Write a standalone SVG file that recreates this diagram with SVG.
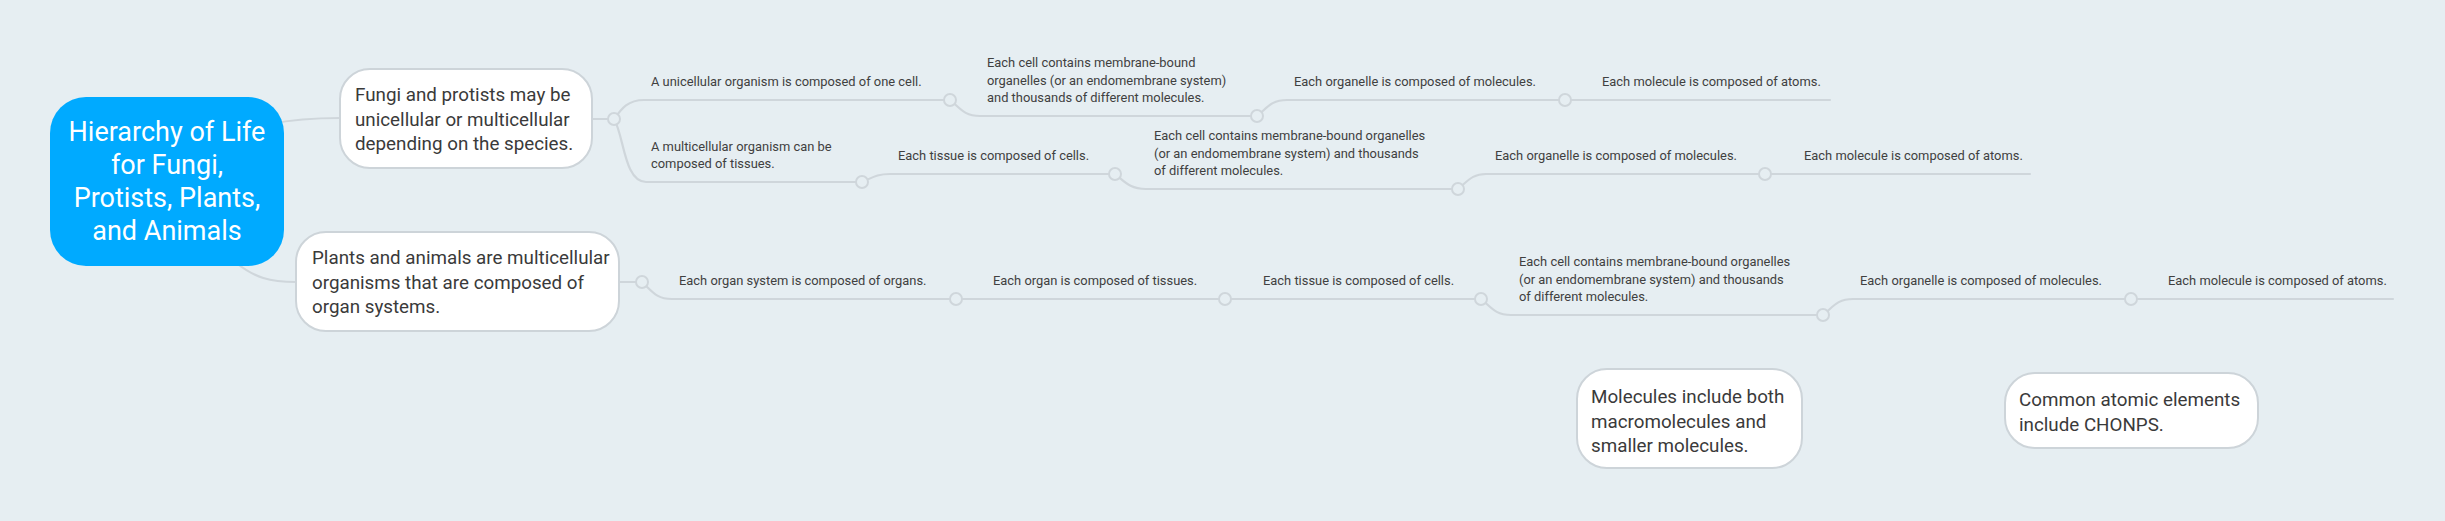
<svg xmlns="http://www.w3.org/2000/svg" width="2445" height="521" viewBox="0 0 2445 521">
<style>
.bg{fill:#e6eef2}
.ln{fill:none;stroke:#cfd6db;stroke-width:2.2;stroke-linecap:round}
.dot{fill:#e6eef2;stroke:#cfd6db;stroke-width:2}
.box{fill:#ffffff;stroke:#cdd4d9;stroke-width:2}
.root{fill:#00aaff}
.rt{font-family:Roboto,'Liberation Sans',sans-serif;font-size:27px;fill:#ffffff;text-anchor:middle}
.nt{font-family:Roboto,'Liberation Sans',sans-serif;font-size:18.8px;fill:#3a3a3a}
.lt{font-family:Roboto,'Liberation Sans',sans-serif;font-size:12.9px;fill:#404040}
</style>
<rect class="bg" x="0" y="0" width="2445" height="521"/>
<g id="connectors">
<path class="ln" d="M270,124 Q300,118 340,118"/>
<path class="ln" d="M235,262 C255,278 270,282 296,282"/>
<path class="ln" d="M592,119 L608,119"/>
<path class="ln" d="M619,282 L636,282"/>
<path class="ln" d="M614,119 C622,108 628,100 644,100 L950,100"/>
<path class="ln" d="M950,100 C960,108 964,116 980,116 L1257,116"/>
<path class="ln" d="M1257,116 C1267,108 1271,100 1287,100 L1565,100"/>
<path class="ln" d="M1565,100 L1830,100"/>
<path class="ln" d="M614,119 C624,135 624,182 646,182 L862,182"/>
<path class="ln" d="M862,182 C872,178 876,174 890,174 L1115,174"/>
<path class="ln" d="M1115,174 C1125,182 1130,189 1146,189 L1458,189"/>
<path class="ln" d="M1458,189 C1468,181 1472,174 1486,174 L1765,174"/>
<path class="ln" d="M1765,174 L2030,174"/>
<path class="ln" d="M642,282 C652,291 656,299 672,299 L956,299"/>
<path class="ln" d="M956,299 L1225,299"/>
<path class="ln" d="M1225,299 L1481,299"/>
<path class="ln" d="M1481,299 C1491,307 1495,315 1511,315 L1823,315"/>
<path class="ln" d="M1823,315 C1833,307 1837,299 1853,299 L2131,299"/>
<path class="ln" d="M2131,299 L2393,299"/>
<circle class="dot" cx="614" cy="119" r="6"/>
<circle class="dot" cx="950" cy="100" r="6"/>
<circle class="dot" cx="1257" cy="116" r="6"/>
<circle class="dot" cx="1565" cy="100" r="6"/>
<circle class="dot" cx="862" cy="182" r="6"/>
<circle class="dot" cx="1115" cy="174" r="6"/>
<circle class="dot" cx="1458" cy="189" r="6"/>
<circle class="dot" cx="1765" cy="174" r="6"/>
<circle class="dot" cx="642" cy="282" r="6"/>
<circle class="dot" cx="956" cy="299" r="6"/>
<circle class="dot" cx="1225" cy="299" r="6"/>
<circle class="dot" cx="1481" cy="299" r="6"/>
<circle class="dot" cx="1823" cy="315" r="6"/>
<circle class="dot" cx="2131" cy="299" r="6"/>
</g>
<g id="root">
<rect class="root" x="50" y="97" width="234" height="169" rx="36"/>
<text class="rt" x="167" y="141">Hierarchy of Life</text>
<text class="rt" x="167" y="174">for Fungi,</text>
<text class="rt" x="167" y="207">Protists, Plants,</text>
<text class="rt" x="167" y="240">and Animals</text>
</g>
<g id="node-fungi">
<rect class="box" x="340" y="69" width="252" height="99" rx="30"/>
<text class="nt" x="355" y="101">Fungi and protists may be</text>
<text class="nt" x="355" y="125.5">unicellular or multicellular</text>
<text class="nt" x="355" y="150">depending on the species.</text>
</g>
<g id="node-plants">
<rect class="box" x="296" y="232" width="323" height="99" rx="30"/>
<text class="nt" x="312" y="264">Plants and animals are multicellular</text>
<text class="nt" x="312" y="288.5">organisms that are composed of</text>
<text class="nt" x="312" y="313">organ systems.</text>
</g>
<g id="chain1">
<text class="lt" x="651" y="86">A unicellular organism is composed of one cell.</text>
<text class="lt" x="987" y="67">Each cell contains membrane-bound</text>
<text class="lt" x="987" y="84.5">organelles (or an endomembrane system)</text>
<text class="lt" x="987" y="102">and thousands of different molecules.</text>
<text class="lt" x="1294" y="86">Each organelle is composed of molecules.</text>
<text class="lt" x="1602" y="86">Each molecule is composed of atoms.</text>
</g>
<g id="chain2">
<text class="lt" x="651" y="150.5">A multicellular organism can be</text>
<text class="lt" x="651" y="168">composed of tissues.</text>
<text class="lt" x="898" y="160">Each tissue is composed of cells.</text>
<text class="lt" x="1154" y="140">Each cell contains membrane-bound organelles</text>
<text class="lt" x="1154" y="157.5">(or an endomembrane system) and thousands</text>
<text class="lt" x="1154" y="175">of different molecules.</text>
<text class="lt" x="1495" y="160">Each organelle is composed of molecules.</text>
<text class="lt" x="1804" y="160">Each molecule is composed of atoms.</text>
</g>
<g id="chain3">
<text class="lt" x="679" y="285">Each organ system is composed of organs.</text>
<text class="lt" x="993" y="285">Each organ is composed of tissues.</text>
<text class="lt" x="1263" y="285">Each tissue is composed of cells.</text>
<text class="lt" x="1519" y="266">Each cell contains membrane-bound organelles</text>
<text class="lt" x="1519" y="283.5">(or an endomembrane system) and thousands</text>
<text class="lt" x="1519" y="301">of different molecules.</text>
<text class="lt" x="1860" y="285">Each organelle is composed of molecules.</text>
<text class="lt" x="2168" y="285">Each molecule is composed of atoms.</text>
</g>
<g id="node-molecules">
<rect class="box" x="1577" y="369" width="225" height="99" rx="30"/>
<text class="nt" x="1591" y="403">Molecules include both</text>
<text class="nt" x="1591" y="427.5">macromolecules and</text>
<text class="nt" x="1591" y="452">smaller molecules.</text>
</g>
<g id="node-atoms">
<rect class="box" x="2005" y="373" width="253" height="75" rx="30"/>
<text class="nt" x="2019" y="406">Common atomic elements</text>
<text class="nt" x="2019" y="430.5">include CHONPS.</text>
</g>
</svg>
